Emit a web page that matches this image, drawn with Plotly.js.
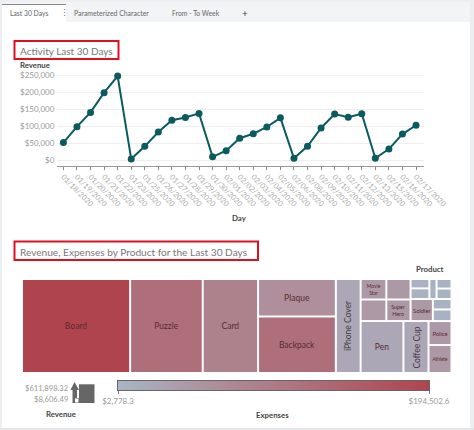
<!DOCTYPE html>
<html><head><meta charset="utf-8">
<script src="https://cdn.plot.ly/plotly-3.0.1.min.js"></script>
<style>html,body{margin:0;padding:0;background:#fff}#c{width:474px;height:430px}</style></head>
<body><div id="c"></div>
<script>
const days=['01/18/2020','01/19/2020','01/20/2020','01/21/2020','01/22/2020','01/23/2020','01/25/2020','01/26/2020','01/27/2020','01/28/2020','01/29/2020','01/30/2020','02/01/2020','02/02/2020','02/03/2020','02/04/2020','02/05/2020','02/06/2020','02/08/2020','02/09/2020','02/10/2020','02/11/2020','02/12/2020','02/13/2020','02/15/2020','02/16/2020','02/17/2020'];
const revenue=[52000,99000,141000,199000,248000,4000,41000,83000,118000,126000,138000,10000,28000,65000,78000,98000,125000,6000,41000,95000,136000,127000,137000,6000,33000,77000,103000];
const yTicks=[0,50000,100000,150000,200000,250000];
const yTickLabels=['$0','$50,000','$100,000','$150,000','$200,000','$250,000'];

// treemap nodes; group nodes (value 0) only arrange their children
const nodeIds=['root','Board','Puzzle','Card','G1','Plaque','Backpack','iPhone Cover','G2','G2T','A','A1','Movie Star','U1','A2','U2','Super Hero','B','B1','C1','c11','c12','C2','C3','c31','c32','B2','Soldier','D','d1','d2','G2B','Pen','Coffee Cup','E','Police','Athlete'];
const nodeParents=['','root','root','root','root','G1','G1','root','root','G2','G2T','A','A1','A1','A','A2','A2','G2T','B','B1','C1','C1','B1','B1','C3','C3','B','B2','B2','D','D','G2','G2B','G2B','G2B','E','E'];
const nodeValues=[0,611898,410800,313200,0,175000,265000,140250,0,0,0,0,31700,29900,0,33400,31500,0,0,0,10630,12010,8650,0,8606,9400,0,29640,0,11700,13060,0,133700,78500,0,33100,38700];
const nodeExpenses=[-1,194500,118000,83000,-1,60000,118000,22000,-1,-1,-1,-1,45000,45000,-1,45000,45000,-1,-1,-1,5000,5000,5000,-1,5000,5000,-1,45000,-1,5000,5000,-1,22000,22000,-1,45000,45000];
const productLabels={'Board':'Board','Puzzle':'Puzzle','Card':'Card','Plaque':'Plaque','Backpack':'Backpack','Movie Star':'Movie<br>Star','Super Hero':'Super<br>Hero','Pen':'Pen','Police':'Police','Athlete':'Athlete'};
const smallLabels=['Movie Star','Super Hero','Police','Athlete'];
const expMin=2778.3, expMax=194502.6;
const expTickLabels=['$2,778.3','$194,502.6'];

const W=474,H=430;
const px=x=>x/W, py=y=>1-y/H;
const scaleColors=[[0,'#A9B5C6'],[0.33,'#AE8C98'],[0.66,'#AE6A74'],[1,'#B0444E']];
const T=(x,y,text,o={})=>Object.assign({xref:'paper',yref:'paper',x:px(x),y:py(y),text,showarrow:false,xanchor:'left',yanchor:'middle',borderpad:0,font:{family:'Lato',size:8.5,color:'#999'}},o);
const R=(x0,y0,x1,y1,o={})=>Object.assign({type:'rect',xref:'paper',yref:'paper',x0:px(x0),x1:px(x1),y0:py(y0),y1:py(y1),layer:'below',line:{width:0},fillcolor:'#eee'},o);
const bold={family:'Lato',size:7.8,color:'#444',weight:700};

// white band at the bottom of the treemap scale colours the group nodes
const tmScale=[[0,'#ffffff'],[1/(expMax+1),'#ffffff']].concat(scaleColors.map(([s,c],i)=>[i==0?(2/(expMax+1)):s,c]));

const traces=[
 {type:'scatter',mode:'lines+markers',x:days,y:revenue,xaxis:'x',yaxis:'y',cliponaxis:false,
  line:{color:'#0A5A5E',width:2},marker:{color:'#0A5A5E',size:7},hoverinfo:'x+y'},
 {type:'treemap',ids:nodeIds,labels:nodeIds,parents:nodeParents,values:nodeValues,branchvalues:'remainder',sort:false,
  text:nodeIds.map(i=>productLabels[i]||''),textinfo:'text',textposition:'middle center',
  marker:{colors:nodeExpenses,colorscale:tmScale,cmin:-1,cmax:expMax,showscale:false,line:{width:0},pad:{t:0,l:0,r:0,b:0},depthfade:false},
  tiling:{packing:'slice-dice',pad:2},pathbar:{visible:false},
  domain:{x:[px(23),px(450.5)],y:[py(372),py(280)]},
  textfont:{family:'Lato',size:nodeIds.map(i=>smallLabels.includes(i)?5.8:8.5),color:'#5a2a30'},
  insidetextfont:{family:'Lato',size:nodeIds.map(i=>smallLabels.includes(i)?5.8:8.5),color:'#5a2a30'},hoverinfo:'label+value'},
 {type:'heatmap',x:[expMin,expMax],y:[0,1],z:[[expMin,expMax],[expMin,expMax]],zsmooth:'best',xaxis:'x2',yaxis:'y2',
  colorscale:scaleColors,showscale:false,hoverinfo:'skip'}
];

const layout={
 width:W,height:H,margin:{l:0,r:0,t:0,b:0},paper_bgcolor:'#fff',plot_bgcolor:'rgba(0,0,0,0)',showlegend:false,
 font:{family:'Lato',color:'#999'},
 xaxis:{domain:[px(57.3),px(423.6)],type:'category',categoryorder:'array',categoryarray:days,range:[-0.45,26.56],
   tickmode:'array',tickvals:days,ticktext:days,tickangle:45,ticks:'outside',ticklen:3,tickcolor:'#888',
   showline:true,linecolor:'#999',linewidth:1,showgrid:false,zeroline:false,tickfont:{family:'Lato',size:7.5,color:'#aaa'},anchor:'y'},
 yaxis:{domain:[py(165.7),py(74)],range:[-16000,254000],tickmode:'array',tickvals:yTicks,ticktext:yTickLabels,ticklabelstandoff:2,
   showgrid:true,gridcolor:'#eeeeee',gridwidth:1,zeroline:false,showline:false,ticks:'',tickfont:{family:'Lato',size:8,color:'#999'},anchor:'x'},
 xaxis2:{domain:[px(118),px(429)],range:[expMin,expMax],tickmode:'array',tickvals:[expMin,expMax],ticktext:expTickLabels,
   ticks:'outside',ticklen:3,tickcolor:'#777',showgrid:false,zeroline:false,showline:true,mirror:true,linecolor:'#666',tickfont:{family:'Lato',size:8,color:'#999'},anchor:'y2'},
 yaxis2:{domain:[py(390),py(381)],range:[0,1],showticklabels:false,ticks:'',showgrid:false,zeroline:false,showline:true,mirror:true,linecolor:'#666',anchor:'x2'},
 shapes:[
  R(0,0,474,2,{fillcolor:'#eceef0'}),
  R(2,2,470,22,{fillcolor:'#f3f4f6'}),
  R(2,5,66,22,{fillcolor:'#ffffff'}),
  R(2,4,66,5,{fillcolor:'#888'}),
  R(470,0,474,430,{fillcolor:'#eceef0'}),
  R(0,0,2,430,{fillcolor:'#eceef0'}),
  R(0,428,474,430,{fillcolor:'#e4e6e8'}),
  R(14.5,41,118.5,59,{fillcolor:'rgba(0,0,0,0)',line:{color:'#e01020',width:2},layer:'above'}),
  R(14.5,241.5,258,260,{fillcolor:'rgba(0,0,0,0)',line:{color:'#e01020',width:2},layer:'above'}),
  R(79,384.3,94.5,403,{fillcolor:'#666',layer:'above'}),
  R(72.5,389,77,398,{fillcolor:'#666',layer:'above'}),
  R(72.5,398,79,403,{fillcolor:'#666',layer:'above'}),
  R(75,398.5,78.5,402.5,{fillcolor:'#fff',layer:'above'}),
  {type:'path',xref:'paper',yref:'paper',path:`M ${px(70.5)} ${py(390)} L ${px(74.5)} ${py(382)} L ${px(79)} ${py(390)} Z`,fillcolor:'#666',line:{width:0},layer:'above'}
 ],
 annotations:[
  T(9,13.5,'Last 30 Days',{font:{family:'Lato',size:6.8,color:'#666'}}),
  T(58.5,13,'⋮',{font:{family:'Lato',size:9,color:'#666'}}),
  T(72.5,13,'Parameterized Character',{font:{family:'Lato',size:6.9,color:'#666'}}),
  T(171,13,'From - To Week',{font:{family:'Lato',size:6.8,color:'#666'}}),
  T(241,13,'+',{font:{family:'Lato',size:10,color:'#444'}}),
  T(19.2,50.5,'Activity Last 30 Days',{font:{family:'Lato',size:10,color:'#777'}}),
  T(19.2,65,'Revenue',{font:bold}),
  T(231,218,'Day',{font:bold}),
  T(19.2,251.5,'Revenue, Expenses by Product for the Last 30 Days',{font:{family:'Lato',size:10.1,color:'#777'}}),
  T(415,269,'Product',{font:bold}),
  T(69,388,'$611,898.32',{xanchor:'right',font:{family:'Lato',size:7.6,color:'#999'}}),
  T(69,399.3,'$8,606.49',{xanchor:'right',font:{family:'Lato',size:7.6,color:'#999'}}),
  T(45.3,414,'Revenue',{font:bold}),
  T(255.2,414.5,'Expenses',{font:bold}),
  T(348,326,'iPhone Cover',{xanchor:'center',textangle:-90,font:{family:'Lato',size:8.5,color:'#4a3a44'}}),
  T(416,347.5,'Coffee Cup',{xanchor:'center',textangle:-90,font:{family:'Lato',size:8.5,color:'#4a3a44'}}),
  T(421.5,310,'Soldier',{xanchor:'center',font:{family:'Lato',size:5.8,color:'#5a2a30'}})
 ]
};
Plotly.newPlot('c',traces,layout,{displayModeBar:false,staticPlot:true});
</script></body></html>
